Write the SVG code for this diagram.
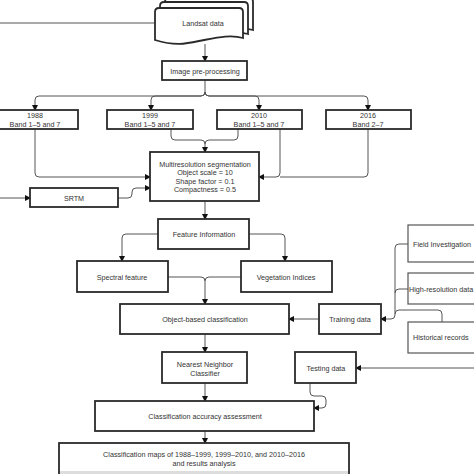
<svg xmlns="http://www.w3.org/2000/svg" width="474" height="474" viewBox="0 0 474 474">
<defs>
<marker id="ah" markerWidth="6" markerHeight="6" refX="5" refY="3" orient="auto" markerUnits="userSpaceOnUse">
<path d="M0,0 L6,3 L0,6 Z" fill="#111"/>
</marker>
<style>
.b{fill:#fff;stroke:#2a2a2a;stroke-width:1.8}
.bl{fill:#fff;stroke:#555;stroke-width:1.2}
.t{font-family:"Liberation Sans",Arial,sans-serif;font-size:7.2px;fill:#333;text-anchor:middle;dominant-baseline:central}
.ts{font-family:"Liberation Sans",Arial,sans-serif;font-size:7.2px;fill:#333;dominant-baseline:central}
.c{fill:none;stroke:#555;stroke-width:1}
.a{marker-end:url(#ah)}
</style>
</defs>
<rect width="474" height="474" fill="#fff"/>

<g id="connectors">
<path class="c" d="M0,23 L155,23"/>
<path class="c a" d="M205,44 L205,61"/>
<path class="c a" d="M205,80 L205,92 Q205,96 201,96 L39,96 Q35,96 35,100 L35,110"/>
<path class="c a" d="M205,92 Q205,96 201,96 L155,96 Q151,96 151,100 L151,110"/>
<path class="c a" d="M205,92 Q205,96 209,96 L255,96 Q259,96 259,100 L259,110"/>
<path class="c a" d="M205,92 Q205,96 209,96 L364,96 Q368,96 368,100 L368,110"/>
<path class="c a" d="M171,129 L171,136 Q171,140 175,140 L201,140 Q205,140 205,144 L205,152"/>
<path class="c" d="M238,129 L238,136 Q238,140 234,140 L209,140 Q205,140 205,144"/>
<path class="c a" d="M35,129 L35,173 Q35,177 39,177 L150,177"/>
<path class="c a" d="M280,129 L280,173 Q280,177 276,177 L259,177"/>
<path class="c" d="M368,129 L368,173 Q368,177 364,177 L280,177"/>
<path class="c a" d="M0,198 L30,198"/>
<path class="c a" d="M118,198 L128,198 Q132,198 132,194 L132,192 Q132,188 136,188 L150,188"/>
<path class="c a" d="M205,201 L205,219"/>
<path class="c a" d="M158,234 L126,234 Q122,234 122,238 L122,261"/>
<path class="c a" d="M249,234 L281,234 Q285,234 285,238 L285,261"/>
<path class="c a" d="M168,277 L201,277 Q205,277 205,281 L205,304"/>
<path class="c" d="M241,277 L209,277 Q205,277 205,281"/>
<path class="c a" d="M319,319 L289,319"/>
<path class="c a" d="M408,244 L399,244 Q395,244 395,248 L395,315 Q395,319 391,319 L381,319"/>
<path class="c" d="M408,289 L399,289 Q395,289 395,293"/>
<path class="c" d="M442,322 L442,314 Q442,310 438,310 L399,310 Q395,310 395,314"/>
<path class="c a" d="M205,334 L205,352"/>
<path class="c a" d="M474,368 L356,368"/>
<path class="c a" d="M310,383 L310,392 Q310,396 314,396 L322,396 Q326,396 326,400 L326,404 Q326,408 322,408 L314,408"/>
<path class="c a" d="M205,383 L205,401"/>
<path class="c a" d="M205,431 L205,443"/>
</g>

<g id="landsat">
<path class="b" d="M165,2 Q165,-2 169,-2 L249,-2 Q253,-2 253,2 L253,30 C240,26 225,30 209,33 C195,36 185,38 165,32 Z"/>
<path class="b" d="M160,6 Q160,2 164,2 L244,2 Q248,2 248,6 L248,34 C235,30 220,34 204,37 C190,40 180,42 160,36 Z"/>
<path class="b" d="M155,12 Q155,8 159,8 L239,8 Q243,8 243,12 L243,38 C230,34 215,38 199,41 C185,44 175,46 155,40 Z"/>
<text class="t" x="203" y="23">Landsat data</text>
</g>

<g id="preprocessing">
<rect class="b" x="162" y="61" width="85" height="19"/>
<text class="t" x="205" y="71">Image pre-processing</text>
</g>

<g id="y1988">
<rect class="b" x="-8" y="110" width="86" height="19"/>
<text class="t" x="35" y="115">1988</text>
<text class="t" x="35" y="124">Band 1–5 and 7</text>
</g>
<g id="y1999">
<rect class="b" x="107" y="110" width="86" height="19"/>
<text class="t" x="150" y="115">1999</text>
<text class="t" x="150" y="124">Band 1–5 and 7</text>
</g>
<g id="y2010">
<rect class="b" x="217" y="110" width="85" height="19"/>
<text class="t" x="259" y="115">2010</text>
<text class="t" x="259" y="124">Band 1–5 and 7</text>
</g>
<g id="y2016">
<rect class="b" x="326" y="110" width="85" height="19"/>
<text class="t" x="368" y="115">2016</text>
<text class="t" x="368" y="124">Band 2–7</text>
</g>

<g id="segmentation">
<rect class="b" x="150" y="152" width="109" height="49"/>
<text class="t" x="205" y="164">Multiresolution segmentation</text>
<text class="t" x="205" y="172">Object scale = 10</text>
<text class="t" x="205" y="181">Shape factor = 0.1</text>
<text class="t" x="205" y="189">Compactness = 0.5</text>
</g>

<g id="srtm">
<rect class="b" x="30" y="188" width="88" height="19"/>
<text class="t" x="74" y="198">SRTM</text>
</g>

<g id="featureinfo">
<rect class="b" x="158" y="219" width="91" height="30"/>
<text class="t" x="204" y="234">Feature Information</text>
</g>

<g id="spectral">
<rect class="b" x="77" y="261" width="91" height="31"/>
<text class="t" x="122" y="277">Spectral feature</text>
</g>

<g id="vegetation">
<rect class="b" x="241" y="261" width="91" height="31"/>
<text class="t" x="286" y="277">Vegetation Indices</text>
</g>

<g id="objectbased">
<rect class="b" x="120" y="304" width="169" height="30"/>
<text class="t" x="205" y="319">Object-based classification</text>
</g>

<g id="training">
<rect class="b" x="319" y="304" width="62" height="30"/>
<text class="t" x="350" y="319">Training data</text>
</g>

<g id="field">
<rect class="bl" x="408" y="225" width="80" height="37"/>
<text class="ts" x="413" y="244">Field Investigation</text>
</g>
<g id="highres">
<rect class="bl" x="408" y="273" width="80" height="31"/>
<text class="ts" x="409" y="289">High-resolution data</text>
</g>
<g id="historical">
<rect class="bl" x="408" y="322" width="80" height="31"/>
<text class="ts" x="413" y="337">Historical records</text>
</g>

<g id="nn">
<rect class="b" x="162" y="352" width="85" height="31"/>
<text class="t" x="205" y="364">Nearest Neighbor</text>
<text class="t" x="205" y="373">Classifier</text>
</g>

<g id="testing">
<rect class="b" x="295" y="352" width="61" height="31"/>
<text class="t" x="326" y="368">Testing data</text>
</g>

<g id="accuracy">
<rect class="b" x="95" y="401" width="219" height="30"/>
<text class="t" x="205" y="416">Classification accuracy assessment</text>
</g>

<g id="maps">
<rect class="b" x="59" y="443" width="290" height="40"/>
<rect x="60" y="471" width="288" height="3" fill="#ddd"/>
<text class="t" x="204" y="454">Classification maps of 1988–1999, 1999–2010, and 2010–2016</text>
<text class="t" x="204" y="463">and results analysis</text>
</g>
</svg>
